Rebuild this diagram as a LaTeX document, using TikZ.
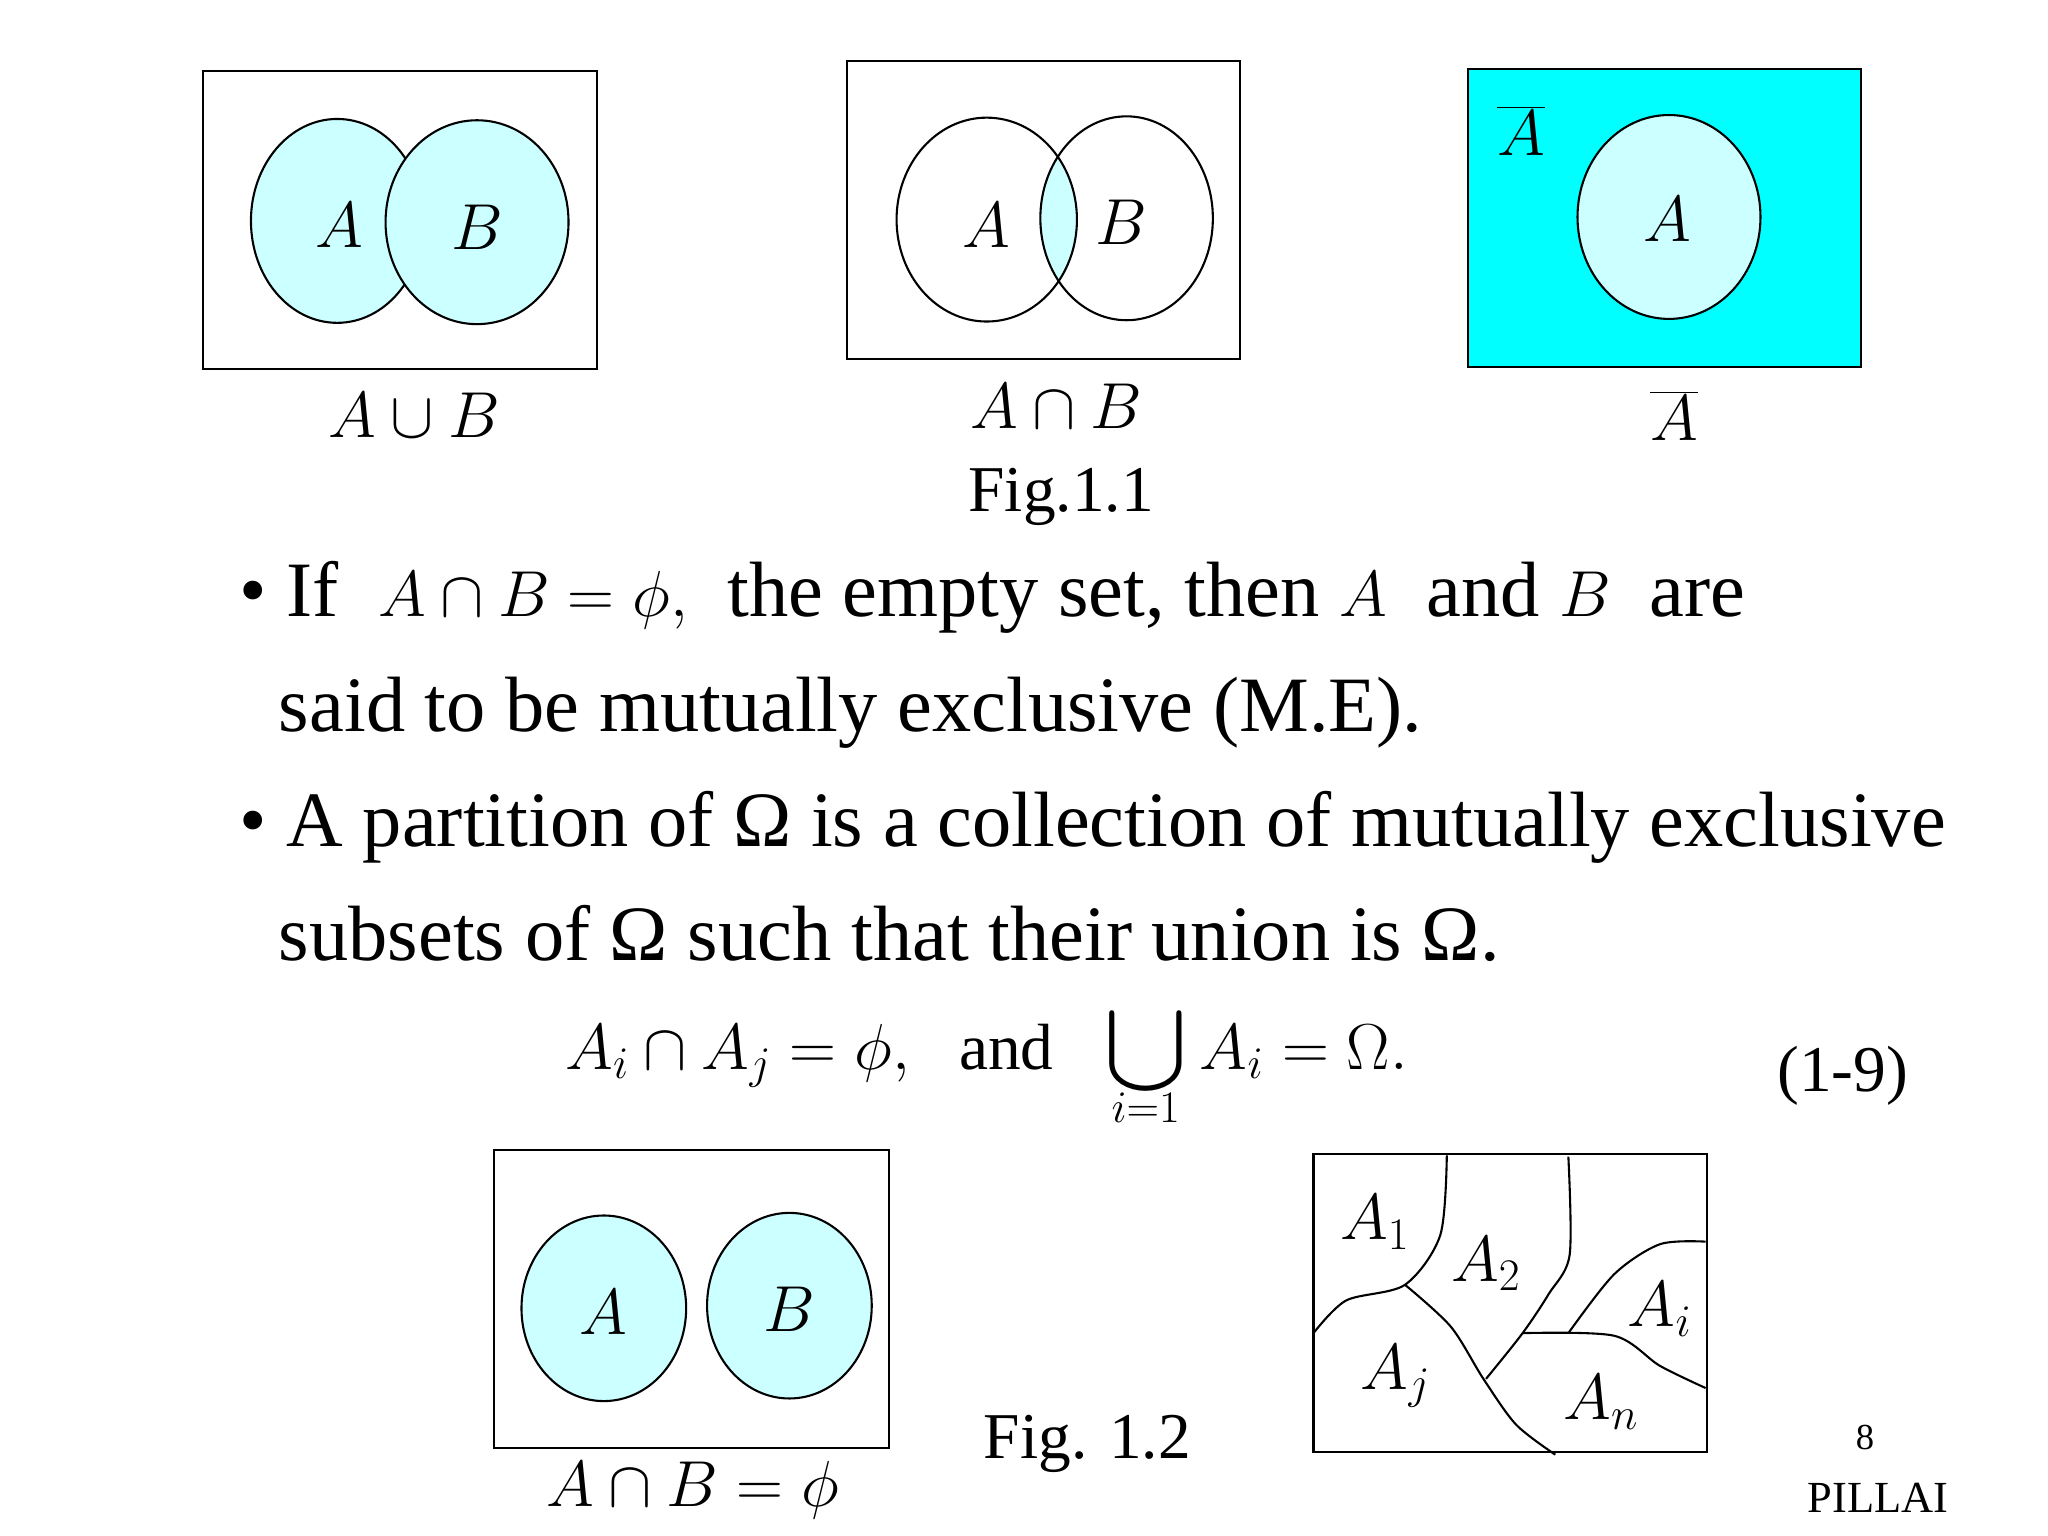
\documentclass[tikz,border=0pt]{standalone}
\usepackage{fontspec}
\setmainfont{Liberation Serif}
\begin{document}
\begin{tikzpicture}[x=0.5pt,y=-0.5pt]
\definecolor{lc}{HTML}{CCFFFF}
\definecolor{cy}{HTML}{00FFFF}
\tikzset{box/.style={draw,line width=0.8pt},
 ov/.style={draw,line width=0.8pt},
 lab/.style={font=\fontsize{25}{29}\selectfont},
 txt/.style={font=\fontsize{30}{36}\selectfont,anchor=base west,inner sep=0}}
\useasboundingbox (0,0) rectangle (1567,1175);
% box 1
\draw[box] (155,54) rectangle (457,282);
\draw[ov,fill=lc] (258,169) ellipse [x radius=66,y radius=78];
\draw[ov,fill=lc] (365,170) ellipse [x radius=70,y radius=78];
\node[lab] (a1) at (260,172) {$A$};
\node[lab] (b1) at (365,174) {$B$};
\node[lab] (c1) at (317,318) {$A\cup B$};
% box 2
\draw[box] (648,47) rectangle (949,275);
\begin{scope}
\clip (755,168) ellipse [x radius=69,y radius=78];
\fill[lc] (862,167) ellipse [x radius=66,y radius=78];
\end{scope}
\draw[ov] (755,168) ellipse [x radius=69,y radius=78];
\draw[ov] (862,167) ellipse [x radius=66,y radius=78];
\node[lab] (a2) at (755,172) {$A$};
\node[lab] (b2) at (858,170) {$B$};
\node[lab] (c2) at (808,311) {$A\cap B$};
% box 3
\draw[box,fill=cy] (1123,53) rectangle (1424,281);
\draw[ov,fill=lc] (1277,166) ellipse [x radius=70,y radius=78];
\node[lab] (a3) at (1276,168) {$A$};
\node[lab] (ab3) at (1164,100) {$\overline{A}$};
\node[lab] (c3) at (1281,318) {$\overline{A}$};
\node[lab] (f1) at (812,380) {Fig.1.1};
% text
\node[txt] (t1) at (183,472) {• If\ \ $A\cap B=\phi,$\ \ the empty set, then $A$\ \ and $B$\ \ are};
\node[txt] (t2) at (213,560) {said to be mutually exclusive (M.E).};
\node[txt] (t3) at (183,648) {• A partition of Ω is a collection of mutually exclusive};
\node[txt] (t4) at (213,735) {subsets of Ω such that their union is Ω.};
\node[lab,anchor=base] (eq) at (755,818) {$A_i\cap A_j=\phi,$\ \ \ and\ \ \ $\displaystyle\mathop{\vcenter{\hbox{\scalebox{2}{$\cup$}}}}\limits_{i=1}A_i=\Omega.$};
\node[lab] (n19) at (1410,823) {(1-9)};
% box 4
\draw[box] (378,880) rectangle (680,1108);
\draw[ov,fill=lc] (462,1001) ellipse [x radius=63,y radius=71];
\draw[ov,fill=lc] (604,999) ellipse [x radius=63,y radius=71];
\node[lab] (a4) at (462,1004) {$A$};
\node[lab] (b4) at (604,1002) {$B$};
\node[lab] (c4) at (530,1140) {$A\cap B=\phi$};
\node[lab] (f2) at (832,1105) {Fig. 1.2};
% box 5
\draw[box] (1005,883) rectangle (1306,1111);
\draw[line width=0.8pt] plot[smooth] coordinates {(1107,884) (1102,945) (1075,983) (1030,995) (1005,1020)};
\draw[line width=0.8pt] plot[smooth] coordinates {(1075,983) (1110,1015) (1135,1055) (1160,1090) (1190,1113)};
\draw[line width=0.8pt] plot[smooth] coordinates {(1200,885) (1201,960) (1185,990) (1165,1020) (1137,1055)};
\draw[line width=0.8pt] plot[smooth] coordinates {(1165,1020) (1235,1022) (1270,1045) (1305,1062)};
\draw[line width=0.8pt] plot[smooth] coordinates {(1305,950) (1270,952) (1235,975) (1200,1020)};
\node[lab] (p1) at (1052,935) {$A_1$};
\node[lab] (p2) at (1137,967) {$A_2$};
\node[lab] (pi) at (1270,1002) {$A_i$};
\node[lab] (pj) at (1068,1053) {$A_j$};
\node[lab] (pn) at (1225,1073) {$A_n$};
\node[font=\fontsize{14}{16}\selectfont] (pg) at (1427,1100) {8};
\node[font=\fontsize{17}{20}\selectfont] (pl) at (1437,1146) {PILLAI};
\end{tikzpicture}
\end{document}
